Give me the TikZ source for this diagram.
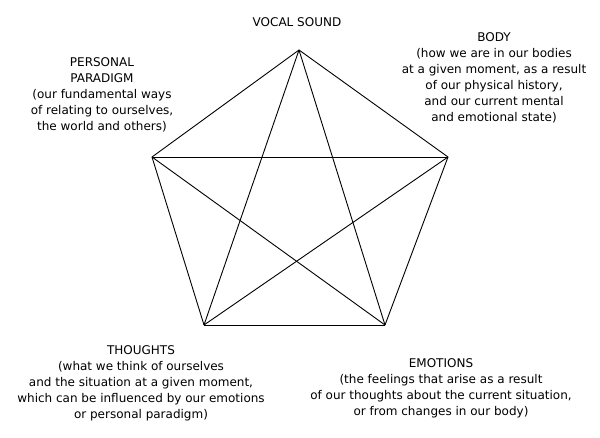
\documentclass[tikz,border=0pt]{standalone}
\usepackage{fontspec}
\setmainfont{DejaVu Sans}
\usepackage{tikz}
\tikzstyle{edge}=[black, line width=0.9pt, line join=round]
\tikzstyle{caption}=[align=center, inner sep=0pt, font=\fontsize{12}{16}\selectfont]

\begin{document}
\begin{tikzpicture}[x=1pt, y=-1pt]
  \useasboundingbox (0,0) rectangle (600,438);
  % corners of the pentagon
  \coordinate (v-1) at (299,50);
  \coordinate (v-2) at (448,157);
  \coordinate (v-3) at (385,325);
  \coordinate (v-4) at (204,325);
  \coordinate (v-5) at (152,157);

  \foreach \i/\j in {1/2,2/3,3/4,4/5,5/1,1/3,1/4,2/4,2/5,3/5}{
    \draw [edge] (v-\i) -- (v-\j);
  }

  \node [caption] (sound) at (297,22) {VOCAL SOUND};
  \node [caption] (body) at (494,78) {BODY\\(how we are in our bodies\\at a given moment, as a result\\of our physical history,\\and our current mental\\and emotional state)};
  \node [caption] (paradigm) at (102,95) {PERSONAL\\PARADIGM\\(our fundamental ways\\of relating to ourselves,\\the world and others)};
  \node [caption] (thoughts) at (141,383) {THOUGHTS\\(what we think of ourselves\\and the situation at a given moment,\\which can be influenced by our emotions\\or personal paradigm)};
  \node [caption] (emotions) at (441,388) {EMOTIONS\\(the feelings that arise as a result\\of our thoughts about the current situation,\\or from changes in our body)};
\end{tikzpicture}
\end{document}
